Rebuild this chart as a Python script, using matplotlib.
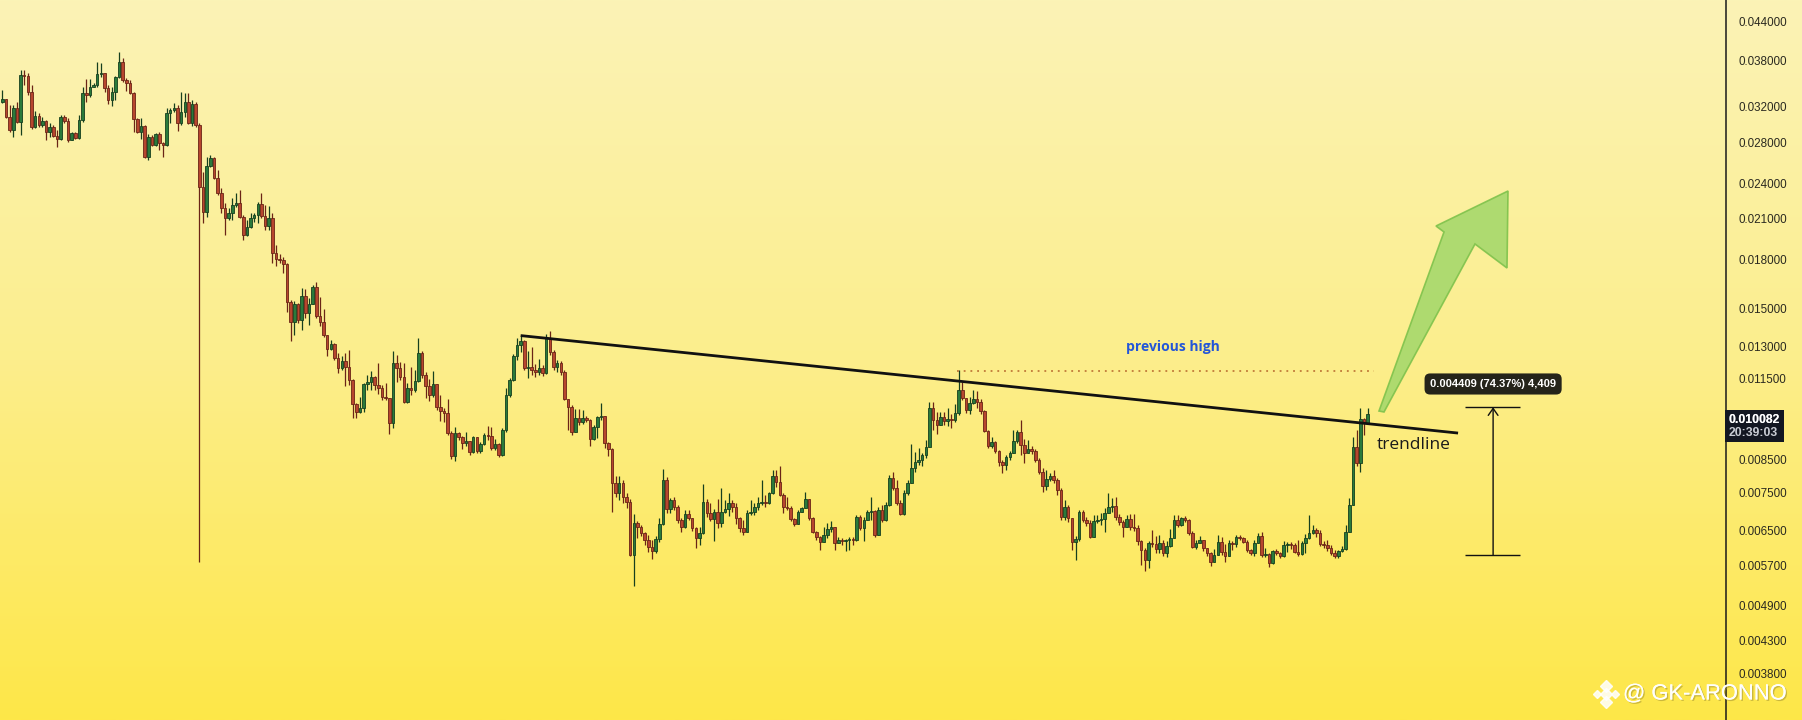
import numpy as np
import matplotlib
matplotlib.use("Agg")
import matplotlib.pyplot as plt
from matplotlib.patches import Polygon
from matplotlib.lines import Line2D
from matplotlib.ticker import NullLocator
import matplotlib.patheffects as pe

# ---------------- data ----------------
open_first = 0.03257
close = [
0.03294, 0.03079, 0.02932, 0.03185, 0.03021, 0.03605, 0.03591, 0.03381, 0.02965, 0.03090,
0.02987, 0.03033, 0.02910, 0.02965, 0.02866, 0.02834, 0.03079, 0.03033, 0.02824, 0.02899,
0.02845, 0.03044, 0.03369, 0.03344, 0.03446, 0.03472, 0.03618, 0.03632, 0.03433, 0.03282,
0.03381, 0.03578, 0.03785, 0.03538, 0.03498, 0.03369, 0.03056, 0.02910, 0.02976, 0.02649,
0.02855, 0.02771, 0.02888, 0.02792, 0.02771, 0.03126, 0.03161, 0.03185, 0.03010, 0.03137,
0.03257, 0.03010, 0.03233, 0.02987, 0.02366, 0.02155, 0.02560, 0.02639, 0.02448, 0.02314,
0.02187, 0.02106, 0.02146, 0.02212, 0.02229, 0.02114, 0.01976, 0.02036, 0.02106, 0.02130,
0.02220, 0.02122, 0.02043, 0.02106, 0.01846, 0.01806, 0.01799, 0.01772, 0.01536, 0.01424,
0.01524, 0.01435, 0.01571, 0.01473, 0.01524, 0.01625, 0.01457, 0.01424, 0.01356, 0.01287,
0.01311, 0.01244, 0.01198, 0.01230, 0.01203, 0.01145, 0.01046, 0.01015, 0.01031, 0.01128,
0.01137, 0.01158, 0.01124, 0.01111, 0.01074, 0.01070, 0.00974, 0.01221, 0.01198, 0.01158,
0.01054, 0.01111, 0.01103, 0.01141, 0.01268, 0.01167, 0.01120, 0.01082, 0.01128, 0.01035,
0.01019, 0.01012, 0.00938, 0.00861, 0.00938, 0.00924, 0.00904, 0.00911, 0.00873, 0.00924,
0.00877, 0.00901, 0.00931, 0.00928, 0.00887, 0.00901, 0.00864, 0.00949, 0.01082, 0.01145,
0.01253, 0.01306, 0.01326, 0.01198, 0.01203, 0.01189, 0.01180, 0.01198, 0.01176, 0.01341,
0.01273, 0.01203, 0.01221, 0.01180, 0.01066, 0.01035, 0.00942, 0.00992, 0.00978, 0.00992,
0.00985, 0.00918, 0.00960, 0.00996, 0.01000, 0.00904, 0.00883, 0.00777, 0.00749, 0.00777,
0.00738, 0.00724, 0.00593, 0.00669, 0.00659, 0.00645, 0.00628, 0.00611, 0.00603, 0.00630,
0.00666, 0.00786, 0.00706, 0.00729, 0.00711, 0.00677, 0.00659, 0.00693, 0.00682, 0.00657,
0.00633, 0.00645, 0.00724, 0.00695, 0.00680, 0.00698, 0.00669, 0.00698, 0.00706, 0.00721,
0.00711, 0.00682, 0.00657, 0.00647, 0.00695, 0.00698, 0.00711, 0.00721, 0.00724, 0.00721,
0.00749, 0.00798, 0.00780, 0.00743, 0.00711, 0.00708, 0.00680, 0.00666, 0.00698, 0.00708,
0.00732, 0.00682, 0.00647, 0.00635, 0.00623, 0.00640, 0.00655, 0.00659, 0.00621, 0.00628,
0.00626, 0.00628, 0.00630, 0.00628, 0.00685, 0.00657, 0.00677, 0.00698, 0.00700, 0.00640,
0.00703, 0.00677, 0.00716, 0.00792, 0.00763, 0.00721, 0.00693, 0.00749, 0.00777, 0.00822,
0.00841, 0.00848, 0.00864, 0.00890, 0.01031, 0.00985, 0.00967, 0.00996, 0.00981, 0.00989,
0.00985, 0.01012, 0.01103, 0.01070, 0.01023, 0.01050, 0.01066, 0.01054, 0.01019, 0.00945,
0.00894, 0.00907, 0.00877, 0.00841, 0.00832, 0.00858, 0.00870, 0.00911, 0.00942, 0.00897,
0.00870, 0.00883, 0.00877, 0.00848, 0.00810, 0.00769, 0.00789, 0.00798, 0.00786, 0.00757,
0.00685, 0.00711, 0.00682, 0.00623, 0.00630, 0.00698, 0.00677, 0.00669, 0.00635, 0.00674,
0.00677, 0.00680, 0.00695, 0.00711, 0.00714, 0.00685, 0.00671, 0.00659, 0.00680, 0.00659,
0.00657, 0.00626, 0.00605, 0.00582, 0.00621, 0.00618, 0.00607, 0.00621, 0.00598, 0.00614,
0.00633, 0.00677, 0.00664, 0.00682, 0.00677, 0.00645, 0.00611, 0.00621, 0.00628, 0.00609,
0.00598, 0.00578, 0.00593, 0.00623, 0.00600, 0.00591, 0.00621, 0.00618, 0.00635, 0.00633,
0.00623, 0.00605, 0.00598, 0.00621, 0.00638, 0.00593, 0.00595, 0.00576, 0.00603, 0.00598,
0.00591, 0.00616, 0.00618, 0.00616, 0.00600, 0.00595, 0.00621, 0.00633, 0.00645, 0.00652,
0.00645, 0.00618, 0.00616, 0.00609, 0.00598, 0.00591, 0.00603, 0.00607, 0.00647, 0.00716,
0.00890, 0.00838, 0.00989, 0.00974, 0.010082,
]
high = [
0.03407, 0.03282, 0.03221, 0.03221, 0.03257, 0.03673, 0.03673, 0.03632, 0.03472, 0.03149,
0.03126, 0.03079, 0.03044, 0.03010, 0.02987, 0.02932, 0.03102, 0.03102, 0.03067, 0.02910,
0.02910, 0.03102, 0.03446, 0.03551, 0.03551, 0.03498, 0.03785, 0.03771, 0.03632, 0.03472,
0.03446, 0.03591, 0.03930, 0.03842, 0.03565, 0.03538, 0.03381, 0.03067, 0.03067, 0.02987,
0.02888, 0.02877, 0.02899, 0.02910, 0.02803, 0.03185, 0.03185, 0.03245, 0.03221, 0.03381,
0.03369, 0.03369, 0.03282, 0.03257, 0.03010, 0.02504, 0.02649, 0.02669, 0.02649, 0.02523,
0.02357, 0.02229, 0.02187, 0.02271, 0.02314, 0.02340, 0.02130, 0.02090, 0.02146, 0.02146,
0.02237, 0.02314, 0.02212, 0.02204, 0.02146, 0.01903, 0.01840, 0.01819, 0.01779, 0.01547,
0.01541, 0.01530, 0.01619, 0.01613, 0.01559, 0.01637, 0.01656, 0.01565, 0.01496, 0.01356,
0.01331, 0.01316, 0.01268, 0.01253, 0.01268, 0.01282, 0.01149, 0.01050, 0.01074, 0.01132,
0.01167, 0.01185, 0.01163, 0.01221, 0.01124, 0.01132, 0.01070, 0.01277, 0.01258, 0.01226,
0.01221, 0.01132, 0.01203, 0.01189, 0.01341, 0.01277, 0.01180, 0.01149, 0.01185, 0.01128,
0.01082, 0.01031, 0.01066, 0.00945, 0.00960, 0.00942, 0.00928, 0.00942, 0.00911, 0.00928,
0.00924, 0.00907, 0.00938, 0.00963, 0.00960, 0.00918, 0.00904, 0.00956, 0.01111, 0.01154,
0.01263, 0.01341, 0.01351, 0.01331, 0.01277, 0.01297, 0.01217, 0.01240, 0.01212, 0.01361,
0.01377, 0.01282, 0.01235, 0.01230, 0.01189, 0.01066, 0.01042, 0.01027, 0.01027, 0.01023,
0.01000, 0.00989, 0.00967, 0.01000, 0.01050, 0.01000, 0.00907, 0.00887, 0.00798, 0.00798,
0.00786, 0.00749, 0.00732, 0.00693, 0.00674, 0.00664, 0.00647, 0.00640, 0.00628, 0.00638,
0.00682, 0.00819, 0.00795, 0.00735, 0.00738, 0.00716, 0.00682, 0.00703, 0.00703, 0.00682,
0.00659, 0.00659, 0.00775, 0.00732, 0.00721, 0.00706, 0.00732, 0.00763, 0.00729, 0.00749,
0.00729, 0.00721, 0.00685, 0.00677, 0.00703, 0.00729, 0.00721, 0.00738, 0.00786, 0.00743,
0.00752, 0.00816, 0.00816, 0.00829, 0.00749, 0.00738, 0.00714, 0.00682, 0.00703, 0.00711,
0.00752, 0.00732, 0.00685, 0.00650, 0.00638, 0.00659, 0.00669, 0.00674, 0.00659, 0.00635,
0.00633, 0.00630, 0.00635, 0.00635, 0.00690, 0.00690, 0.00685, 0.00703, 0.00738, 0.00703,
0.00711, 0.00716, 0.00724, 0.00801, 0.00810, 0.00786, 0.00729, 0.00757, 0.00786, 0.00901,
0.00873, 0.00887, 0.00870, 0.00914, 0.01054, 0.01054, 0.01015, 0.01015, 0.01015, 0.01031,
0.01008, 0.01046, 0.01189, 0.01137, 0.01070, 0.01074, 0.01103, 0.01099, 0.01066, 0.01023,
0.00949, 0.00924, 0.00911, 0.00880, 0.00848, 0.00864, 0.00877, 0.00949, 0.00949, 0.00985,
0.00918, 0.00914, 0.00894, 0.00883, 0.00854, 0.00822, 0.00816, 0.00807, 0.00816, 0.00792,
0.00763, 0.00729, 0.00716, 0.00682, 0.00638, 0.00703, 0.00703, 0.00685, 0.00677, 0.00690,
0.00690, 0.00695, 0.00708, 0.00749, 0.00735, 0.00738, 0.00693, 0.00677, 0.00690, 0.00693,
0.00693, 0.00664, 0.00628, 0.00609, 0.00626, 0.00652, 0.00638, 0.00640, 0.00628, 0.00626,
0.00655, 0.00690, 0.00690, 0.00685, 0.00687, 0.00680, 0.00650, 0.00628, 0.00638, 0.00628,
0.00609, 0.00600, 0.00607, 0.00640, 0.00635, 0.00618, 0.00628, 0.00626, 0.00640, 0.00640,
0.00635, 0.00628, 0.00607, 0.00628, 0.00645, 0.00647, 0.00609, 0.00598, 0.00605, 0.00607,
0.00600, 0.00626, 0.00623, 0.00623, 0.00621, 0.00628, 0.00626, 0.00643, 0.00690, 0.00664,
0.00657, 0.00652, 0.00626, 0.00628, 0.00616, 0.00605, 0.00605, 0.00614, 0.00664, 0.00735,
0.00924, 0.00949, 0.01031, 0.00992, 0.01031,
]
low = [
0.03245, 0.03067, 0.02910, 0.02855, 0.03010, 0.02877, 0.03472, 0.03344, 0.02942, 0.02954,
0.02965, 0.02965, 0.02824, 0.02855, 0.02855, 0.02750, 0.02824, 0.03010, 0.02803, 0.02824,
0.02834, 0.02834, 0.03021, 0.03257, 0.03319, 0.03446, 0.03446, 0.03578, 0.03381, 0.03233,
0.03209, 0.03282, 0.03565, 0.03511, 0.03394, 0.03356, 0.02910, 0.02899, 0.02834, 0.02639,
0.02619, 0.02761, 0.02761, 0.02720, 0.02649, 0.02761, 0.03010, 0.03137, 0.02921, 0.02987,
0.03079, 0.02998, 0.02976, 0.02965, 0.00578, 0.02067, 0.02114, 0.02551, 0.02439, 0.02296,
0.02146, 0.01976, 0.02090, 0.02090, 0.02195, 0.02106, 0.01939, 0.01969, 0.02028, 0.02074,
0.02067, 0.02106, 0.02013, 0.02013, 0.01779, 0.01758, 0.01779, 0.01713, 0.01479, 0.01326,
0.01356, 0.01419, 0.01382, 0.01446, 0.01408, 0.01524, 0.01446, 0.01403, 0.01346, 0.01253,
0.01282, 0.01235, 0.01176, 0.01189, 0.01120, 0.01124, 0.00992, 0.00992, 0.01012, 0.01015,
0.01103, 0.01103, 0.01103, 0.01086, 0.01062, 0.01062, 0.00935, 0.00956, 0.01137, 0.01145,
0.01050, 0.01050, 0.01082, 0.01095, 0.01137, 0.01154, 0.01070, 0.01058, 0.01074, 0.01023,
0.00981, 0.00978, 0.00931, 0.00851, 0.00845, 0.00914, 0.00883, 0.00894, 0.00864, 0.00870,
0.00870, 0.00870, 0.00897, 0.00914, 0.00880, 0.00880, 0.00858, 0.00861, 0.00942, 0.01074,
0.01141, 0.01235, 0.01273, 0.01189, 0.01154, 0.01167, 0.01158, 0.01167, 0.01163, 0.01172,
0.01258, 0.01189, 0.01180, 0.01167, 0.01062, 0.00949, 0.00931, 0.00942, 0.00967, 0.00970,
0.00978, 0.00894, 0.00914, 0.00921, 0.00985, 0.00887, 0.00861, 0.00698, 0.00738, 0.00729,
0.00721, 0.00708, 0.00591, 0.00528, 0.00633, 0.00638, 0.00616, 0.00600, 0.00584, 0.00598,
0.00623, 0.00664, 0.00695, 0.00695, 0.00703, 0.00669, 0.00647, 0.00657, 0.00677, 0.00650,
0.00609, 0.00616, 0.00643, 0.00685, 0.00674, 0.00626, 0.00657, 0.00659, 0.00695, 0.00687,
0.00698, 0.00666, 0.00647, 0.00640, 0.00647, 0.00690, 0.00690, 0.00703, 0.00716, 0.00711,
0.00719, 0.00746, 0.00766, 0.00740, 0.00695, 0.00703, 0.00674, 0.00662, 0.00666, 0.00698,
0.00708, 0.00677, 0.00645, 0.00628, 0.00605, 0.00623, 0.00633, 0.00647, 0.00605, 0.00621,
0.00616, 0.00603, 0.00605, 0.00616, 0.00626, 0.00652, 0.00626, 0.00677, 0.00677, 0.00635,
0.00640, 0.00671, 0.00674, 0.00714, 0.00757, 0.00716, 0.00690, 0.00690, 0.00743, 0.00777,
0.00810, 0.00832, 0.00829, 0.00854, 0.00890, 0.00949, 0.00935, 0.00967, 0.00967, 0.00963,
0.00956, 0.00978, 0.01004, 0.01062, 0.01012, 0.01008, 0.01046, 0.01031, 0.01008, 0.00942,
0.00887, 0.00887, 0.00870, 0.00829, 0.00807, 0.00816, 0.00848, 0.00870, 0.00904, 0.00864,
0.00838, 0.00873, 0.00867, 0.00841, 0.00804, 0.00752, 0.00757, 0.00783, 0.00777, 0.00743,
0.00677, 0.00677, 0.00671, 0.00605, 0.00582, 0.00626, 0.00671, 0.00662, 0.00633, 0.00635,
0.00669, 0.00664, 0.00647, 0.00695, 0.00698, 0.00677, 0.00664, 0.00635, 0.00659, 0.00652,
0.00650, 0.00616, 0.00572, 0.00559, 0.00565, 0.00611, 0.00598, 0.00598, 0.00591, 0.00589,
0.00611, 0.00633, 0.00659, 0.00662, 0.00671, 0.00640, 0.00609, 0.00607, 0.00621, 0.00603,
0.00591, 0.00570, 0.00578, 0.00593, 0.00593, 0.00578, 0.00591, 0.00605, 0.00611, 0.00628,
0.00621, 0.00600, 0.00593, 0.00591, 0.00621, 0.00589, 0.00589, 0.00568, 0.00574, 0.00593,
0.00587, 0.00589, 0.00600, 0.00607, 0.00598, 0.00591, 0.00593, 0.00598, 0.00630, 0.00643,
0.00635, 0.00614, 0.00609, 0.00603, 0.00593, 0.00587, 0.00587, 0.00600, 0.00605, 0.00647,
0.00716, 0.00829, 0.00810, 0.00931, 0.00978,
]

tick_values = [0.044, 0.038, 0.032, 0.028, 0.024, 0.021, 0.018, 0.015, 0.013,
               0.0115, 0.0085, 0.0075, 0.0065, 0.0057, 0.0049, 0.0043, 0.0038]
tick_labels = ["0.044000", "0.038000", "0.032000", "0.028000", "0.024000", "0.021000",
               "0.018000", "0.015000", "0.013000", "0.011500", "0.008500", "0.007500",
               "0.006500", "0.005700", "0.004900", "0.004300", "0.003800"]

last_price = 0.010082
countdown = "20:39:03"
trend_x = [142, 398.8]
trend_y = [0.01353, 0.00938]
prev_high_price = 0.01185
prev_high_x = [261.6, 375.8]
measure_low = 0.005928
measure_high = 0.010337
measure_label = "0.004409 (74.37%) 4,409"

# ---------------- figure ----------------
W, H = 1802, 720
fig = plt.figure(figsize=(W / 100, H / 100), dpi=100)

bg = fig.add_axes([0, 0, 1, 1])
bg.axis("off")
t = np.linspace(0, 1, 256)[:, None]
top_c = np.array([251, 243, 182]) / 255
mid_c = np.array([252, 238, 140]) / 255
bot_c = np.array([254, 231, 72]) / 255
grad = np.where(t < 0.5, top_c + (mid_c - top_c) * (t / 0.5),
                mid_c + (bot_c - mid_c) * ((t - 0.5) / 0.5))
grad = np.repeat(grad[:, None, :], 2, axis=1).reshape(256, 2, 3)
bg.imshow(grad, aspect="auto", extent=[0, 1, 0, 1], origin="upper")
bg.set_xlim(0, 1)
bg.set_ylim(0, 1)

ax = fig.add_axes([0, 0, 1726 / W, 1])
ax.patch.set_alpha(0)
ax.set_yscale("log")

n = min(len(close), len(high), len(low))
c = np.array(close[:n])
h = np.array(high[:n])
l = np.array(low[:n])
o = np.empty(n)
o[0] = open_first
o[1:] = c[:-1]
x = np.arange(n)
up = c >= o
top = np.maximum(o, c)
bot = np.minimum(o, c)
hi = np.maximum(h, top)
lo = np.minimum(l, bot)

g_body, g_edge = "#2a7a3b", "#163f1e"
r_body, r_edge = "#b7462e", "#6a2416"
for mask, fc, ec in [(up, g_body, g_edge), (~up, r_body, r_edge)]:
    ax.vlines(x[mask], lo[mask], hi[mask], color=ec, lw=0.9, zorder=2)
    ax.bar(x[mask], top[mask] - bot[mask], bottom=bot[mask], width=0.7,
           color=fc, edgecolor=ec, linewidth=0.6, zorder=3)

ax.set_xlim(-0.63, 472.2)
ax.set_ylim(0.003191, 0.04775)

ax.yaxis.tick_right()
ax.set_yticks(tick_values)
ax.set_yticklabels(tick_labels)
ax.yaxis.set_minor_locator(NullLocator())
ax.tick_params(axis="y", length=0, pad=9, labelsize=8.4, labelcolor="#2b2a20")
for lab in ax.get_yticklabels():
    lab.set_fontfamily("Liberation Sans")
ax.set_xticks([])
for s in ["top", "left", "bottom"]:
    ax.spines[s].set_visible(False)
ax.spines["right"].set_color("#1a1a1a")
ax.spines["right"].set_linewidth(1.1)

# trendline
ax.plot(trend_x, trend_y, color="#111111", lw=2.0, zorder=5, solid_capstyle="butt")
ax.text(376.6, 0.00897, "trendline", fontsize=12.5, color="#1a1a1a",
        family="Open Sans", ha="left", va="center", zorder=6)

# previous high
ax.plot(prev_high_x, [prev_high_price] * 2, color="#b5652a", lw=1.1,
        linestyle=(0, (1.2, 3.2)), zorder=4)
ax.text(320.7, 0.01296, "previous high", fontsize=10, color="#2356d8",
        family="Open Sans", fontweight="bold", ha="center", va="center", zorder=6)

# measure tool
mx = 408.4
ax.annotate("", xy=(mx, measure_high), xytext=(mx, measure_low),
            arrowprops=dict(arrowstyle="->,head_length=0.5,head_width=0.35",
                            color="#111111", lw=1.0, shrinkA=0, shrinkB=0), zorder=6)
ax.hlines([measure_low, measure_high], 400.7, 415.8, color="#111111", lw=1.0, zorder=6)
ax.text(mx, 0.01128, measure_label, fontsize=8, color="white", family="Liberation Sans",
        fontweight="bold", ha="center", va="center", zorder=7,
        bbox=dict(boxstyle="round,pad=0.5,rounding_size=0.5", fc="#25241a", ec="none"))

# green arrow (drawing)
pts_px = [(1379, 411), (1444, 232), (1436, 226), (1508, 191), (1507, 268),
          (1475, 244), (1384, 412)]
pts = [(px / 1726, 1 - py / 720) for px, py in pts_px]
ax.add_patch(Polygon(pts, closed=True, transform=ax.transAxes, fc="#a6d86c",
                     ec="#7fc24c", lw=1.2, alpha=0.9, zorder=6))

# last price label
trans = matplotlib.transforms.blended_transform_factory(ax.transAxes, ax.transData)
ax.text(1.0015, last_price, "0.010082\n" + countdown, transform=trans, fontsize=8.8,
        color="#c9ccd4", family="Liberation Sans", fontweight="bold", ha="left",
        va="top", linespacing=1.1, zorder=8, clip_on=False,
        bbox=dict(boxstyle="square,pad=0.3", fc="#131722", ec="none"))
ax.text(1.0015, last_price, "0.010082\n ", transform=trans, fontsize=8.8,
        color="white", family="Liberation Sans", fontweight="bold", ha="left",
        va="top", linespacing=1.1, zorder=9, clip_on=False)

# watermark
wm = fig.text(1623 / W, 1 - 694 / H, "@ GK-ARONNO", fontsize=15.8, color="white",
              alpha=0.92, ha="left", va="center", family="Liberation Sans", zorder=20)
wm.set_path_effects([pe.withSimplePatchShadow(offset=(1, -1), shadow_rgbFace="#9a8a30",
                                              alpha=0.5), pe.Normal()])
cx, cy = 1606, 694
for dx, dy, s in [(0, 0, 6), (-9, 0, 4.5), (9, 0, 4.5), (0, -8, 6), (0, 8, 6)]:
    fig.add_artist(Line2D([(cx + dx) / W], [1 - (cy + dy) / H], marker="D",
                          markersize=s, color="white", alpha=0.85, lw=0,
                          transform=fig.transFigure, zorder=20))

fig.savefig("out.png", dpi=100)
